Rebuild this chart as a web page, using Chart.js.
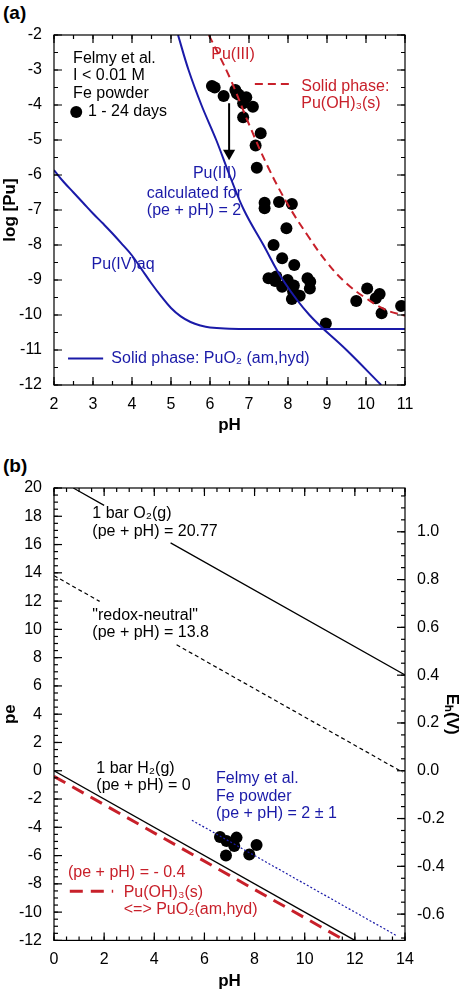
<!DOCTYPE html>
<html><head><meta charset="utf-8">
<script src="https://cdn.jsdelivr.net/npm/chart.js@4/dist/chart.umd.min.js"></script>
<style>
body{margin:0;background:#fff;width:462px;height:1000px;position:relative;font-family:"Liberation Sans",Arial,sans-serif}
.lab{position:absolute;font-weight:bold;font-size:19px}
canvas{position:absolute;left:0}
</style></head><body>
<div class="lab" style="left:3px;top:2px">(a)</div>
<div class="lab" style="left:3px;top:455px">(b)</div>
<div style="position:absolute;left:0;top:0;width:462px;height:440px"><canvas id="ca"></canvas></div>
<div style="position:absolute;left:0;top:460px;width:462px;height:540px"><canvas id="cb"></canvas></div>
<script>
// ---- Panel (a) data ----
const measPH = [6.05,6.12,6.35,6.65,6.69,6.74,6.93,6.85,7.1,6.85,7.3,7.17,7.2,7.4,7.4,7.77,8.1,7.96,7.63,7.85,8.16,7.5,7.7,7.67,7.85,7.99,8.15,8.13,8.1,8.3,8.5,8.57,8.56,8.97,9.75,10.03,10.25,10.35,10.4,10.9];
const measLogPu = [-3.46,-3.5,-3.74,-3.57,-3.67,-3.71,-3.78,-3.95,-4.05,-4.35,-4.81,-5.16,-5.79,-6.79,-6.95,-6.77,-6.83,-7.52,-8.0,-8.38,-8.57,-8.95,-8.9,-9.03,-9.19,-9.0,-9.16,-9.33,-9.54,-9.45,-8.95,-9.05,-9.24,-10.24,-9.6,-9.24,-9.52,-9.4,-9.95,-9.74];
const pu3CalcPH = [5.18,5.45,5.78,6.16,6.5,6.87,7.37,7.87,8.55,9.5,10.39];
const pu3CalcLog = [-2,-3,-4,-5,-6,-7,-8,-9,-10,-11,-12];
const pu3SolidPH = [5.97,6.5,7.0,7.5,8.0,8.5,9.0,9.5,10.0,10.5,11.0];
const pu3SolidLog = [-2,-3.2,-4.55,-5.8,-6.85,-7.72,-8.5,-9.1,-9.52,-9.85,-10.02];
const pu4PH = [2,2.25,2.5,2.75,3,3.25,3.5,3.75,4,4.25,4.5,4.75,5,5.25,5.5,5.75,6,6.5,7,11];
const pu4Log = [-5.86,-6.2,-6.5,-6.8,-7.1,-7.38,-7.67,-7.98,-8.3,-8.7,-9.1,-9.47,-9.8,-10.04,-10.2,-10.3,-10.36,-10.39,-10.4,-10.4];
const arrowPH = [6.49,6.49];
const arrowLog = [-3.95,-5.38];
const aXTicks = [2,3,4,5,6,7,8,9,10,11];
const aYTicks = [-2,-3,-4,-5,-6,-7,-8,-9,-10,-11,-12];
// ---- Panel (b) data ----
const bPtsPH = [6.62,6.88,7.28,7.19,6.86,7.79,8.08];
const bPtsPe = [-4.69,-4.97,-4.73,-5.33,-5.99,-5.92,-5.25];
const o2PH = [0.77,2.0,null,4.65,14];
const o2Pe = [20,18.77,null,16.12,6.77];
const neutPH = [0,1.82,null,4.89,13.9];
const neutPe = [13.8,11.98,null,8.91,-0.1];
const h2PH = [0,12];
const h2Pe = [0,-12];
const pu3pu4PH = [0,11.6];
const pu3pu4Pe = [-0.4,-12];
const felmyPH = [5.5,13.7];
const felmyPe = [-3.5,-11.7];
const bXTicks = [0,2,4,6,8,10,12,14];
const bYTicks = [20,18,16,14,12,10,8,6,4,2,0,-2,-4,-6,-8,-10,-12];
const ehTicks = [-0.6,-0.4,-0.2,0.0,0.2,0.4,0.6,0.8,1.0];
const EH_PER_PE = 0.05916;

const FONT = '"Liberation Sans", Arial, sans-serif';
const BLUE = '#1a1aa8', RED = '#c8202a';
const xy = (xs, ys) => xs.map((x,i)=>({x:x, y: ys[i]}));

const frame = {
  id:'frame',
  afterDatasetsDraw(chart, args, o){
    const c = chart.ctx, a = chart.chartArea;
    c.save();
    c.strokeStyle='#000'; c.lineWidth=1.2;
    c.strokeRect(a.left,a.top,a.right-a.left,a.bottom-a.top);
    const tick=(scale, vals, len, horiz, sides)=>{
      vals.forEach(v=>{
        const p = scale.getPixelForValue(v);
        c.beginPath();
        if(horiz){
          if(sides.includes('b')){c.moveTo(p,a.bottom);c.lineTo(p,a.bottom-len);}
          if(sides.includes('t')){c.moveTo(p,a.top);c.lineTo(p,a.top+len);}
        } else {
          if(sides.includes('l')){c.moveTo(a.left,p);c.lineTo(a.left+len,p);}
          if(sides.includes('r')){c.moveTo(a.right,p);c.lineTo(a.right-len,p);}
        }
        c.stroke();
      });
    };
    const range=(lo,hi,st)=>{const r=[];for(let v=lo;v<=hi+1e-9;v+=st)r.push(v);return r;};
    const xs=chart.scales.x, ys=chart.scales.y;
    tick(xs, range(xs.min,xs.max,o.xMinor), 4, true, 'bt');
    tick(xs, range(xs.min,xs.max,o.xMajor), 8, true, 'bt');
    tick(ys, range(ys.min,ys.max,o.yMinor), 4, false, o.y2?'l':'lr');
    tick(ys, range(ys.min,ys.max,o.yMajor), 8, false, o.y2?'l':'lr');
    if(o.y2){
      const y2=chart.scales.y2;
      tick(y2, range(-0.7,1.15,0.05).map(v=>Math.round(v*100)/100), 4, false, 'r');
      tick(y2, ehTicks, 8, false, 'r');
    }
    (o.texts||[]).forEach(t=>{
      c.font = (t.size||16)+'px '+FONT;
      c.fillStyle = t.color||'#000';
      c.textBaseline='middle';
      c.textAlign = t.align||'left';
      c.fillText(t.s, xs.getPixelForValue(t.x), ys.getPixelForValue(t.y));
    });
    (o.keys||[]).forEach(k=>{
      c.beginPath(); c.strokeStyle=k.color; c.lineWidth=k.w; c.setLineDash(k.dash||[]);
      const y=ys.getPixelForValue(k.y);
      c.moveTo(xs.getPixelForValue(k.x0),y); c.lineTo(xs.getPixelForValue(k.x1),y); c.stroke();
      c.setLineDash([]);
    });
    (o.dots||[]).forEach(d=>{
      c.beginPath(); c.fillStyle='#000';
      c.arc(xs.getPixelForValue(d.x), ys.getPixelForValue(d.y), 6, 0, Math.PI*2); c.fill();
    });
    c.restore();
  }
};

const tickFont = {family:FONT,size:16};
const titleFont = {family:FONT,size:17,weight:'bold'};

new Chart(document.getElementById('ca'),{
  type:'scatter',
  data:{datasets:[
    {data:xy(pu4PH,pu4Log),showLine:true,borderColor:BLUE,borderWidth:2,pointRadius:0,tension:0.4},
    {data:xy(pu3CalcPH,pu3CalcLog),showLine:true,borderColor:BLUE,borderWidth:2,pointRadius:0,tension:0.4},
    {data:xy(pu3SolidPH,pu3SolidLog),showLine:true,borderColor:RED,borderWidth:2,borderDash:[8,5],pointRadius:0,tension:0.4},
    {data:xy(arrowPH,arrowLog),showLine:true,borderColor:'#000',borderWidth:2,pointRadius:[0,7],pointStyle:'triangle',rotation:180,pointBackgroundColor:'#000',pointBorderWidth:0},
    {data:xy(measPH,measLogPu),pointRadius:6,pointBackgroundColor:'#000',pointBorderWidth:0}
  ]},
  options:{
    responsive:true,maintainAspectRatio:false,animation:false,
    layout:{padding:{top:35,right:57,bottom:0,left:0}},
    plugins:{legend:{display:false},tooltip:{enabled:false},
      frame:{xMajor:1,xMinor:0.5,yMajor:1,yMinor:0.5,
        texts:[
          {s:'Felmy et al.',x:2.49,y:-2.67},{s:'I < 0.01 M',x:2.49,y:-3.17},{s:'Fe powder',x:2.49,y:-3.67},
          {s:'1 - 24 days',x:2.87,y:-4.2},
          {s:'Pu(III)',x:6.59,y:-2.57,color:RED,align:'center'},
          {s:'Solid phase:',x:8.34,y:-3.46,color:RED},{s:'Pu(OH)₃(s)',x:8.34,y:-3.97,color:RED},
          {s:'Pu(III)',x:6.12,y:-5.97,color:BLUE,align:'center'},
          {s:'calculated for',x:5.6,y:-6.52,color:BLUE,align:'center'},
          {s:'(pe + pH) = 2',x:5.59,y:-7.02,color:BLUE,align:'center'},
          {s:'Pu(IV)aq',x:3.77,y:-8.57,color:BLUE,align:'center'},
          {s:'Solid phase: PuO₂ (am,hyd)',x:3.47,y:-11.24,color:BLUE}
        ],
        keys:[{x0:7.15,x1:8.13,y:-3.4,color:RED,w:2,dash:[8,5]},{x0:2.36,x1:3.26,y:-11.24,color:BLUE,w:2}],
        dots:[{x:2.57,y:-4.2}]
      }},
    scales:{
      x:{type:'linear',min:2,max:11,grid:{display:false},border:{display:false},
        afterBuildTicks:s=>{s.ticks=aXTicks.map(v=>({value:v}));},
        afterFit:s=>{s.height=55;},
        ticks:{font:tickFont,color:'#000',padding:2},
        title:{display:true,text:'pH',font:titleFont,color:'#000',padding:{top:0}}},
      y:{type:'linear',min:-12,max:-2,grid:{display:false},border:{display:false},
        afterBuildTicks:s=>{s.ticks=aYTicks.map(v=>({value:v}));},
        afterFit:s=>{s.width=54;},
        ticks:{font:tickFont,color:'#000',padding:4},
        title:{display:true,text:'log [Pu]',font:titleFont,color:'#000',padding:0}}
    }
  },
  plugins:[frame]
});

new Chart(document.getElementById('cb'),{
  type:'scatter',
  data:{datasets:[
    {data:xy(o2PH,o2Pe),showLine:true,borderColor:'#000',borderWidth:1.2,pointRadius:0,spanGaps:false},
    {data:xy(neutPH,neutPe),showLine:true,borderColor:'#000',borderWidth:1.2,borderDash:[4,3],pointRadius:0,spanGaps:false},
    {data:xy(h2PH,h2Pe),showLine:true,borderColor:'#000',borderWidth:1.3,pointRadius:0},
    {data:xy(pu3pu4PH,pu3pu4Pe),showLine:true,borderColor:RED,borderWidth:3,borderDash:[13,8],pointRadius:0},
    {data:xy(felmyPH,felmyPe),showLine:true,borderColor:BLUE,borderWidth:1.2,borderDash:[2,2],pointRadius:0},
    {data:xy(bPtsPH,bPtsPe),pointRadius:6,pointBackgroundColor:'#000',pointBorderWidth:0}
  ]},
  options:{
    responsive:true,maintainAspectRatio:false,animation:false,
    layout:{padding:{top:28,right:0,bottom:4,left:0}},
    plugins:{legend:{display:false},tooltip:{enabled:false},
      frame:{xMajor:2,xMinor:0.5,yMajor:2,yMinor:0.5,y2:true,
        texts:[
          {s:'1 bar O₂(g)',x:1.53,y:18.2},{s:'(pe + pH) = 20.77',x:1.53,y:16.95},
          {s:'"redox-neutral"',x:1.53,y:11.0},{s:'(pe + pH) = 13.8',x:1.53,y:9.75},
          {s:'1 bar H₂(g)',x:1.69,y:0.12},{s:'(pe + pH) = 0',x:1.69,y:-1.07},
          {s:'Felmy et al.',x:6.46,y:-0.59,color:BLUE},{s:'Fe powder',x:6.46,y:-1.8,color:BLUE},
          {s:'(pe + pH) = 2 ± 1',x:6.46,y:-3.03,color:BLUE},
          {s:'(pe + pH) = - 0.4',x:0.56,y:-7.17,color:RED},
          {s:'Pu(OH)₃(s)',x:2.78,y:-8.6,color:RED},{s:'<=> PuO₂(am,hyd)',x:2.78,y:-9.82,color:RED}
        ],
        keys:[{x0:0.63,x1:2.36,y:-8.52,color:RED,w:3,dash:[13,8]}]
      }},
    scales:{
      x:{type:'linear',min:0,max:14,grid:{display:false},border:{display:false},
        afterBuildTicks:s=>{s.ticks=bXTicks.map(v=>({value:v}));},
        ticks:{font:tickFont,color:'#000',padding:2},
        title:{display:true,text:'pH',font:titleFont,color:'#000',padding:{top:0}}},
      y:{type:'linear',min:-12,max:20,grid:{display:false},border:{display:false},
        afterBuildTicks:s=>{s.ticks=bYTicks.map(v=>({value:v}));},
        afterFit:s=>{s.width=54;},
        ticks:{font:tickFont,color:'#000',padding:4},
        title:{display:true,text:'pe',font:titleFont,color:'#000',padding:0}},
      y2:{type:'linear',position:'right',min:-12*EH_PER_PE,max:20*EH_PER_PE,grid:{display:false},border:{display:false},
        afterBuildTicks:s=>{s.ticks=ehTicks.map(v=>({value:v}));},
        afterFit:s=>{s.width=57;},
        ticks:{font:tickFont,color:'#000',padding:4,callback:v=>Number(v).toFixed(1)},
        title:{display:true,text:'Eₕ(V)',font:titleFont,color:'#000',padding:0}}
    }
  },
  plugins:[frame]
});
</script></body></html>
